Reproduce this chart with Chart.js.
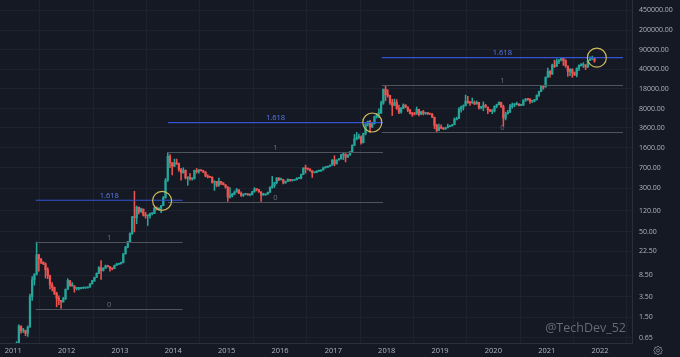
<!DOCTYPE html>
<html><head><meta charset="utf-8">
<script src="https://cdn.jsdelivr.net/npm/chart.js@4.4.1/dist/chart.umd.min.js"></script>
<style>html,body{margin:0;padding:0;background:#151924;overflow:hidden}canvas{display:block}</style>
</head><body>
<canvas id="c" width="680" height="357"></canvas>
<script>
// ---------- data ----------
const yearTicks = [2011,2012,2013,2014,2015,2016,2017,2018,2019,2020,2021,2022];
const priceTicks = [0.65,1.5,3.5,8.5,22.5,50,120,300,700,1600,3600,8000,18000,40000,90000,200000,450000];

// half-month candles, starting with the second half of Jan 2011
const firstYear = 2011, firstHalfIndex = 1; // 0 = Jan H1, 1 = Jan H2
const firstOpen = 0.40;
const closes = [
 // 2011
 0.52,1.05,0.86,0.87,0.78,1.0,3.5,7.0,8.7,19.5,16.5,14.5,13.5,10.5,8.2,5.7,5.1,4.0,3.25,3.0,2.8,3.2,4.7,
 // 2012
 6.8,5.5,5.5,4.9,4.9,4.9,4.95,5.0,5.0,5.15,5.9,6.7,7.7,9.1,11.5,10.2,11.2,12.4,12.0,11.2,11.0,12.6,13.3,13.5,
 // 2013
 14.2,20.4,27,33.4,47,93,90,139,115,129,100,97,98,106,106,135,128,133,148,204,420,1120,870,750,
 // 2014
 850,830,650,570,630,460,470,445,445,630,600,640,620,585,500,480,475,385,400,340,400,375,350,320,
 // 2015
 210,220,235,255,285,245,225,235,235,230,230,262,290,285,260,229,230,236,255,312,335,378,455,430,
 // 2016
 430,375,400,435,415,415,425,450,455,530,690,675,665,625,570,575,610,610,640,700,710,745,780,960,
 // 2017
 820,965,1010,1190,1230,1080,1180,1350,1750,2300,2450,2480,1950,2870,4200,4700,3700,4350,5700,6450,6600,10000,17700,14000,
 // 2018
 13800,10200,9000,10300,8100,6900,8000,9200,8500,7500,6450,6400,6350,7750,6300,7000,6500,6600,6500,6350,5600,4000,3250,3700,
 // 2019
 3600,3450,3600,3800,3900,4100,5100,5300,7800,8500,8900,10800,10200,10100,10300,9600,10300,8300,8350,9150,8500,7550,7100,7200,
 // 2020
 8800,9350,10350,8600,5400,6400,6850,8650,9300,9450,9450,9150,9200,11350,11800,11650,10800,10800,11500,13800,16000,19700,19400,29000,
 // 2021
 36800,33100,47900,45200,55600,58900,63100,57700,46400,36700,40200,35000,31800,41500,47100,47100,48000,43800,57400,61300,65000,57000
];
const highs = [
 0.55,1.10,1.00,0.95,0.88,1.05,3.9,8.0,9.0,33,20,16.8,14.5,14,11.5,8.5,6.2,5.2,4.2,3.6,3.0,3.4,4.8,
 7.3,6.6,6.2,5.0,5.1,5.0,5.0,5.2,5.1,5.2,6.0,6.8,7.8,9.3,12,15.4,11.5,12.8,12.7,12.0,11.2,12.8,13.8,13.7,
 14.5,20.5,27.5,34,48,95,266,145,126,134,124,112,100,108,108,136,140,135,150,215,450,1300,1200,780,
 1000,1000,850,680,700,640,480,550,460,635,680,650,640,630,600,525,490,480,410,400,460,400,380,345,
 320,310,245,270,300,275,260,240,245,240,235,265,310,295,285,260,245,240,258,320,490,385,470,465,
 460,435,405,445,425,420,430,465,460,540,700,780,680,670,600,585,620,615,645,720,740,750,785,980,
 1150,970,1030,1200,1300,1240,1200,1360,1800,2760,3000,2800,2600,2900,4300,4750,4900,4400,5850,6500,7900,10900,17800,20500,
 17200,13000,11700,11800,11500,9200,8400,9700,9400,8600,7700,6800,6800,8500,7700,7100,7400,6800,6700,6500,6500,5600,4200,4200,
 4100,3650,3700,4200,4000,4150,5450,5600,8300,8800,9300,13900,13200,10600,12300,10900,10900,10300,8700,10500,9500,8500,7700,7700,
 8900,9550,10500,10300,9200,6900,7400,9450,10000,9800,10400,9800,9450,11450,12100,12000,12000,11100,11700,14000,16400,19900,19900,29300,
 42000,38000,49700,58300,61700,60000,64800,63000,59600,43500,41300,41000,36000,42600,48100,50500,52900,48500,58000,67000,69000,59500
];
const lows = [
 0.38,0.50,0.78,0.80,0.70,0.68,1.0,3.0,5.6,8.5,10,13.5,13,7.5,7.3,4.8,4.4,3.8,2.3,2.5,2.15,2.8,3.1,
 4.7,5.3,5.3,4.2,4.6,4.6,4.8,4.9,4.9,5.0,5.2,5.9,6.5,7.7,9.0,7.1,10.0,11.2,11.8,10.0,10.5,11.0,12.5,13.0,
 13.3,14.0,20,26,33,45,50,70,105,112,96,88,65,88,101,106,123,121,110,147,200,400,700,520,
 730,800,600,420,560,440,340,420,420,440,560,560,610,570,480,460,465,370,275,320,325,350,345,300,
 176,200,210,230,270,240,215,215,230,225,220,230,255,270,255,175,225,225,235,255,300,310,360,410,
 420,360,370,400,400,405,415,425,445,440,530,560,640,600,470,565,570,595,605,635,690,715,740,780,
 760,820,960,1000,980,890,1070,1170,1350,1750,2200,2300,1850,1950,2700,3900,2950,3700,4200,5400,5500,6600,9500,11000,
 12700,9500,6000,9500,7700,6500,6600,7900,8300,7000,6400,5800,6100,6350,5900,6300,6150,6300,6200,6250,5500,3500,3100,3200,
 3500,3350,3400,3700,3800,3900,4100,5000,5300,6900,7500,9000,9900,9100,9900,9400,9600,7800,7900,7300,8400,6500,7000,6450,
 6900,8250,9300,8400,3850,5000,6400,6800,8100,8600,9200,8900,9000,9050,10700,11200,9850,10200,10500,11300,13200,16000,17600,19200,
 28700,29000,32300,43000,45000,50400,56500,47000,43500,30000,31000,28800,31000,29300,38000,45500,43000,39600,43300,58000,60000,53500
];

// Fibonacci drawings (log-scale levels)
const fibStarts = [2011.42, 2013.90, 2017.907];
const fibEnds   = [2014.176, 2017.931, 2022.43];
const fibZero   = [2.13, 173, 3085];
const fibOne    = [33.4, 1322, 21050];
const fibExt    = [184, 4460, 64600];
const circleTimes  = [2013.79, 2017.73, 2021.94];
const circlePrices = [180, 4500, 64600];
const watermark = '@TechDev_52';

// ---------- build ----------
const UP = '#26a69a', DOWN = '#ef5350';
const bodies = [], wicks = [], colors = [];
let prev = firstOpen;
for (let i = 0; i < closes.length; i++) {
  const k = firstHalfIndex + i;
  const t = firstYear + Math.floor(k / 24) + (k % 24) / 24 + 1 / 48;
  const o = prev, c = closes[i];
  bodies.push({x: t, y: [Math.min(o, c), Math.max(o, c)]});
  wicks.push({x: t, y: [lows[i], highs[i]]});
  colors.push(c >= o ? UP : DOWN);
  prev = c;
}

const FONT = '"Open Sans", "Noto Sans", sans-serif';

const bgPlugin = {
  id: 'bg',
  beforeDraw(chart) {
    const {ctx, width, height} = chart;
    ctx.save();
    ctx.fillStyle = '#151924';
    ctx.fillRect(0, 0, width, height);
    ctx.restore();
  }
};

const overlay = {
  id: 'overlay',
  afterDatasetsDraw(chart) {
    const {ctx, scales: {x, y}} = chart;
    ctx.save();
    ctx.font = '7.5px ' + FONT;
    ctx.textAlign = 'center';
    ctx.textBaseline = 'middle';
    for (let i = 0; i < fibStarts.length; i++) {
      const x0 = x.getPixelForValue(fibStarts[i]);
      const x1 = x.getPixelForValue(fibEnds[i]);
      const mid = (x0 + x1) / 2;
      const levels = [
        [fibZero[i], '0', '#50545f', '#6c707c', 1],
        [fibOne[i], '1', '#50545f', '#6c707c', 1],
        [fibExt[i], '1.618', '#3553d0', '#5d7bf2', 1.2]
      ];
      for (const [v, lab, lc, tc, lw] of levels) {
        const py = lw === 1 ? Math.round(y.getPixelForValue(v)) + 0.5 : y.getPixelForValue(v);
        ctx.strokeStyle = lc;
        ctx.lineWidth = lw;
        ctx.beginPath();
        ctx.moveTo(x0, py);
        ctx.lineTo(x1, py);
        ctx.stroke();
        ctx.fillStyle = tc;
        ctx.fillText(lab, mid, py - 4.5);
      }
    }
    ctx.strokeStyle = '#cdb85a';
    ctx.lineWidth = 1.2;
    for (let i = 0; i < circleTimes.length; i++) {
      ctx.beginPath();
      ctx.arc(x.getPixelForValue(circleTimes[i]), y.getPixelForValue(circlePrices[i]), 9.5, 0, Math.PI * 2);
      ctx.stroke();
    }
    // watermark
    ctx.font = '12.5px ' + FONT;
    ctx.textAlign = 'right';
    ctx.fillStyle = '#666a76';
    ctx.fillText(watermark, x.right - 6, y.bottom - 15);
    // gear icon in the corner
    const gx = (y.left + y.right) / 2 + 2, gy = (x.top + x.bottom) / 2 + 0.5;
    ctx.strokeStyle = '#787b86';
    ctx.lineWidth = 1;
    ctx.beginPath();
    for (let a = 0; a < 16; a++) {
      const r = (a % 2 === 0) ? 4.5 : 3.4;
      const ang = a * Math.PI / 8;
      const px = gx + r * Math.cos(ang), py = gy + r * Math.sin(ang);
      if (a === 0) ctx.moveTo(px, py); else ctx.lineTo(px, py);
    }
    ctx.closePath();
    ctx.stroke();
    ctx.beginPath();
    ctx.arc(gx, gy, 1.5, 0, Math.PI * 2);
    ctx.stroke();
    ctx.restore();
  }
};

new Chart(document.getElementById('c'), {
  type: 'bar',
  data: {
    datasets: [
      {data: bodies, backgroundColor: colors, borderWidth: 0, barThickness: 1.6, minBarLength: 1, grouped: false},
      {data: wicks, backgroundColor: colors, borderWidth: 0, barThickness: 0.9, minBarLength: 1, grouped: false}
    ]
  },
  options: {
    responsive: false,
    animation: false,
    devicePixelRatio: 1,
    layout: {padding: 0},
    plugins: {legend: {display: false}, tooltip: {enabled: false}},
    scales: {
      x: {
        type: 'linear',
        offset: false,
        min: 2010.7507,
        max: 2022.599,
        afterBuildTicks: s => { s.ticks = yearTicks.map(v => ({value: v})); },
        afterFit: s => { s.height = 14; s.paddingLeft = 0; s.paddingRight = 0; },
        grid: {color: '#1e2230', drawTicks: false},
        border: {color: '#2a2e39'},
        ticks: {autoSkip: false, maxRotation: 0, padding: 3, color: '#b2b5be', font: {family: FONT, size: 7.5},
                callback: v => String(v)}
      },
      y: {
        type: 'logarithmic',
        position: 'right',
        min: 0.5195,
        max: 692900,
        afterBuildTicks: s => { s.ticks = priceTicks.map(v => ({value: v})); },
        afterFit: s => { s.width = 48; s.paddingTop = 0; s.paddingBottom = 0; },
        grid: {color: '#1e2230', drawTicks: true, tickLength: 7, tickColor: 'rgba(0,0,0,0)'},
        border: {color: '#2a2e39'},
        ticks: {autoSkip: false, padding: 0, color: '#b2b5be', font: {family: FONT, size: 7},
                callback: v => Number(v).toFixed(2)}
      }
    }
  },
  plugins: [bgPlugin, overlay]
});
</script>
</body></html>
